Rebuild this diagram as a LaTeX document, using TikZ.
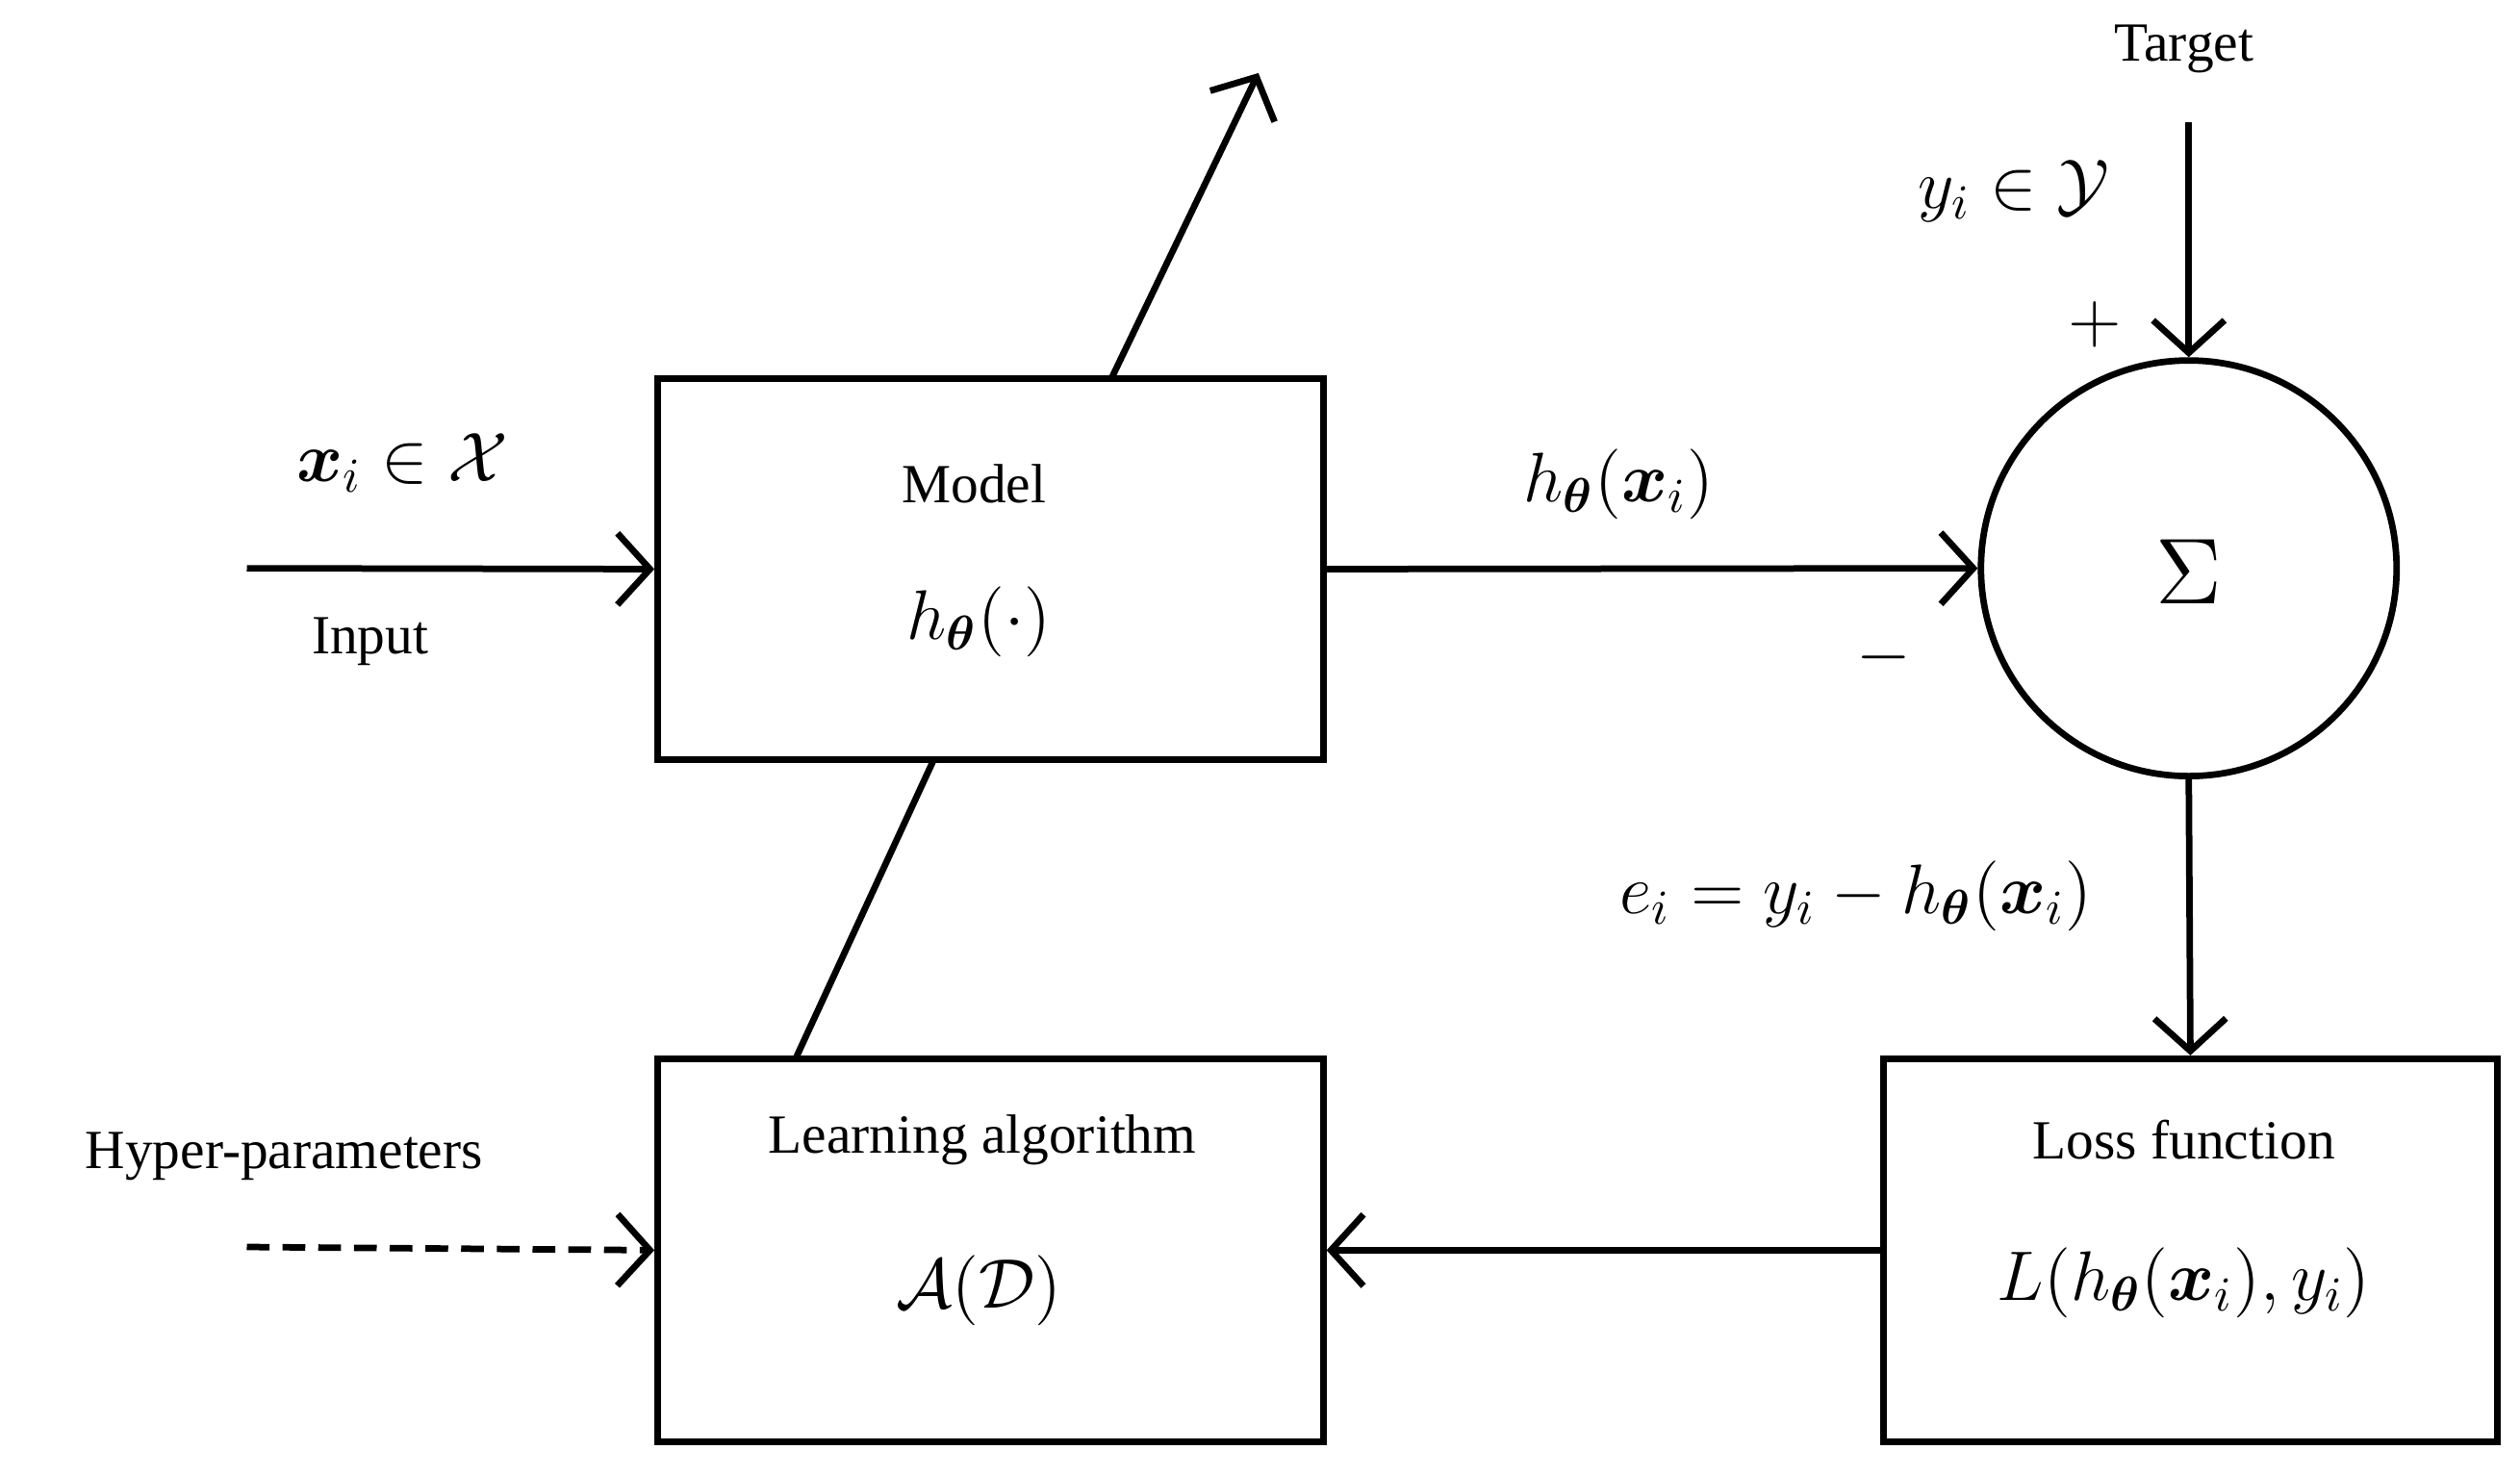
\documentclass[tikz,border=0pt]{standalone}
\usepackage{amsmath,bm}
\usepackage{fontspec}
\setmainfont{Liberation Serif}
\usetikzlibrary{arrows.meta}
\begin{document}
\begin{tikzpicture}[x=1pt,y=-1pt,line width=4pt,
  box/.style={draw,line width=4pt},
  arr/.style={-{Straight Barb[length=20pt,width=44pt,line width=4pt]}},
  txt/.style={font=\fontsize{34}{38}\selectfont},
  mth/.style={font=\Large,scale=3.0}]
\useasboundingbox (0,0) rectangle (1552,908);
\node[box,minimum width=410pt,minimum height=235pt] (model) at (610,350.5) {};
\node[box,minimum width=410pt,minimum height=236pt] (learn) at (610,770) {};
\node[box,minimum width=378pt,minimum height=236pt] (loss) at (1349,770) {};
\node[draw,circle,line width=4pt,minimum size=256pt,inner sep=0pt] (sum) at (1348,350) {};
\node[font=\Large,scale=4] (sig) at (1348,352) {$\Sigma$};
\node[txt] (tm) at (600,298) {Model};
\node[mth] (hm) at (603,383) {$h_{\bm\theta}(\cdot)$};
\node[txt] (tl) at (605,702) {Learning algorithm};
\node[mth] (al) at (603,795) {$\mathcal{A}(\mathcal{D})$};
\node[txt] (tf) at (1345,702) {Loss function};
\node[mth] (lf) at (1345,790) {$L(h_{\bm\theta}(\bm{x}_i),y_i)$};
\node[txt] (inp) at (228,395) {Input};
\node[mth] (xi) at (248,285) {$\bm{x}_i\in\mathcal{X}$};
\node[mth] (hx) at (997,298) {$h_{\bm\theta}(\bm{x}_i)$};
\node[mth] (ei) at (1143,552) {$e_i=y_i-h_{\bm\theta}(\bm{x}_i)$};
\node[mth] (yi) at (1240,118) {$y_i\in\mathcal{Y}$};
\node[mth] (pl) at (1290,200) {$+$};
\node[mth] (mi) at (1160,405) {$-$};
\node[txt] (hp) at (175,712) {Hyper-parameters};
\node[txt] (tg) at (1345,30) {Target};
\coordinate (inS) at (152,350);
\coordinate (hpS) at (152,768);
\coordinate (tgS) at (1348,75);
\coordinate (outS) at (685,232);
\coordinate (outE) at (775,45);
\draw[arr] (inS) -- (model.west);
\draw[arr,dashed,dash pattern=on 14pt off 8pt] (hpS) -- (learn.west);
\draw[arr] (tgS) -- (sum.north);
\draw[arr] (outS) -- (outE);
\draw (490,652) -- (575,468);
\draw[arr] (model.east) -- (sum.west);
\draw[arr] (sum.south) -- (loss.north);
\draw[arr] (loss.west) -- (learn.east);
\end{tikzpicture}
\end{document}
